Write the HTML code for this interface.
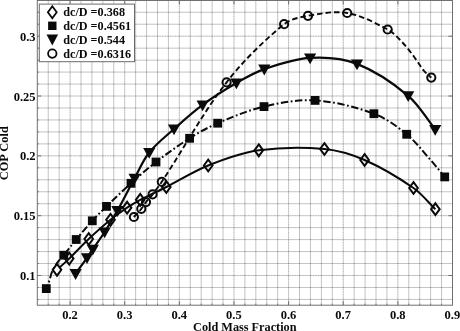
<!DOCTYPE html>
<html><head><meta charset="utf-8"><title>COP Cold vs Cold Mass Fraction</title>
<style>html,body{margin:0;padding:0;background:#fff;overflow:hidden}body{width:460px;height:331px;position:relative}</style></head>
<body>
<svg width="460" height="331" viewBox="0 0 460 331" style="position:absolute;left:0;top:0">
<g><line x1="48.23" y1="0.5" x2="48.23" y2="305.2" stroke="rgba(0,0,0,0.27)" stroke-width="0.9"/><line x1="59.15" y1="0.5" x2="59.15" y2="305.2" stroke="rgba(0,0,0,0.27)" stroke-width="0.9"/><line x1="70.08" y1="0.5" x2="70.08" y2="305.2" stroke="rgba(0,0,0,0.2)" stroke-width="0.9"/><line x1="70.08" y1="0.5" x2="70.08" y2="305.2" stroke="rgba(0,0,0,0.2)" stroke-width="0.9" stroke-dasharray="1 1.6"/><line x1="81.00" y1="0.5" x2="81.00" y2="305.2" stroke="rgba(0,0,0,0.27)" stroke-width="0.9"/><line x1="91.93" y1="0.5" x2="91.93" y2="305.2" stroke="rgba(0,0,0,0.27)" stroke-width="0.9"/><line x1="102.86" y1="0.5" x2="102.86" y2="305.2" stroke="rgba(0,0,0,0.27)" stroke-width="0.9"/><line x1="113.78" y1="0.5" x2="113.78" y2="305.2" stroke="rgba(0,0,0,0.27)" stroke-width="0.9"/><line x1="124.71" y1="0.5" x2="124.71" y2="305.2" stroke="rgba(0,0,0,0.2)" stroke-width="0.9"/><line x1="124.71" y1="0.5" x2="124.71" y2="305.2" stroke="rgba(0,0,0,0.2)" stroke-width="0.9" stroke-dasharray="1 1.6"/><line x1="135.63" y1="0.5" x2="135.63" y2="305.2" stroke="rgba(0,0,0,0.27)" stroke-width="0.9"/><line x1="146.56" y1="0.5" x2="146.56" y2="305.2" stroke="rgba(0,0,0,0.27)" stroke-width="0.9"/><line x1="157.49" y1="0.5" x2="157.49" y2="305.2" stroke="rgba(0,0,0,0.27)" stroke-width="0.9"/><line x1="168.41" y1="0.5" x2="168.41" y2="305.2" stroke="rgba(0,0,0,0.27)" stroke-width="0.9"/><line x1="179.34" y1="0.5" x2="179.34" y2="305.2" stroke="rgba(0,0,0,0.2)" stroke-width="0.9"/><line x1="179.34" y1="0.5" x2="179.34" y2="305.2" stroke="rgba(0,0,0,0.2)" stroke-width="0.9" stroke-dasharray="1 1.6"/><line x1="190.26" y1="0.5" x2="190.26" y2="305.2" stroke="rgba(0,0,0,0.27)" stroke-width="0.9"/><line x1="201.19" y1="0.5" x2="201.19" y2="305.2" stroke="rgba(0,0,0,0.27)" stroke-width="0.9"/><line x1="212.12" y1="0.5" x2="212.12" y2="305.2" stroke="rgba(0,0,0,0.27)" stroke-width="0.9"/><line x1="223.04" y1="0.5" x2="223.04" y2="305.2" stroke="rgba(0,0,0,0.27)" stroke-width="0.9"/><line x1="233.97" y1="0.5" x2="233.97" y2="305.2" stroke="rgba(0,0,0,0.2)" stroke-width="0.9"/><line x1="233.97" y1="0.5" x2="233.97" y2="305.2" stroke="rgba(0,0,0,0.2)" stroke-width="0.9" stroke-dasharray="1 1.6"/><line x1="244.89" y1="0.5" x2="244.89" y2="305.2" stroke="rgba(0,0,0,0.27)" stroke-width="0.9"/><line x1="255.82" y1="0.5" x2="255.82" y2="305.2" stroke="rgba(0,0,0,0.27)" stroke-width="0.9"/><line x1="266.75" y1="0.5" x2="266.75" y2="305.2" stroke="rgba(0,0,0,0.27)" stroke-width="0.9"/><line x1="277.67" y1="0.5" x2="277.67" y2="305.2" stroke="rgba(0,0,0,0.27)" stroke-width="0.9"/><line x1="288.60" y1="0.5" x2="288.60" y2="305.2" stroke="rgba(0,0,0,0.2)" stroke-width="0.9"/><line x1="288.60" y1="0.5" x2="288.60" y2="305.2" stroke="rgba(0,0,0,0.2)" stroke-width="0.9" stroke-dasharray="1 1.6"/><line x1="299.52" y1="0.5" x2="299.52" y2="305.2" stroke="rgba(0,0,0,0.27)" stroke-width="0.9"/><line x1="310.45" y1="0.5" x2="310.45" y2="305.2" stroke="rgba(0,0,0,0.27)" stroke-width="0.9"/><line x1="321.38" y1="0.5" x2="321.38" y2="305.2" stroke="rgba(0,0,0,0.27)" stroke-width="0.9"/><line x1="332.30" y1="0.5" x2="332.30" y2="305.2" stroke="rgba(0,0,0,0.27)" stroke-width="0.9"/><line x1="343.23" y1="0.5" x2="343.23" y2="305.2" stroke="rgba(0,0,0,0.2)" stroke-width="0.9"/><line x1="343.23" y1="0.5" x2="343.23" y2="305.2" stroke="rgba(0,0,0,0.2)" stroke-width="0.9" stroke-dasharray="1 1.6"/><line x1="354.15" y1="0.5" x2="354.15" y2="305.2" stroke="rgba(0,0,0,0.27)" stroke-width="0.9"/><line x1="365.08" y1="0.5" x2="365.08" y2="305.2" stroke="rgba(0,0,0,0.27)" stroke-width="0.9"/><line x1="376.01" y1="0.5" x2="376.01" y2="305.2" stroke="rgba(0,0,0,0.27)" stroke-width="0.9"/><line x1="386.93" y1="0.5" x2="386.93" y2="305.2" stroke="rgba(0,0,0,0.27)" stroke-width="0.9"/><line x1="397.86" y1="0.5" x2="397.86" y2="305.2" stroke="rgba(0,0,0,0.2)" stroke-width="0.9"/><line x1="397.86" y1="0.5" x2="397.86" y2="305.2" stroke="rgba(0,0,0,0.2)" stroke-width="0.9" stroke-dasharray="1 1.6"/><line x1="408.78" y1="0.5" x2="408.78" y2="305.2" stroke="rgba(0,0,0,0.27)" stroke-width="0.9"/><line x1="419.71" y1="0.5" x2="419.71" y2="305.2" stroke="rgba(0,0,0,0.27)" stroke-width="0.9"/><line x1="430.64" y1="0.5" x2="430.64" y2="305.2" stroke="rgba(0,0,0,0.27)" stroke-width="0.9"/><line x1="441.56" y1="0.5" x2="441.56" y2="305.2" stroke="rgba(0,0,0,0.27)" stroke-width="0.9"/><line x1="37.3" y1="299.43" x2="452.5" y2="299.43" stroke="rgba(0,0,0,0.27)" stroke-width="0.9"/><line x1="37.3" y1="287.47" x2="452.5" y2="287.47" stroke="rgba(0,0,0,0.27)" stroke-width="0.9"/><line x1="37.3" y1="275.50" x2="452.5" y2="275.50" stroke="rgba(0,0,0,0.2)" stroke-width="0.9"/><line x1="37.3" y1="275.50" x2="452.5" y2="275.50" stroke="rgba(0,0,0,0.2)" stroke-width="0.9" stroke-dasharray="1 1.6"/><line x1="37.3" y1="263.54" x2="452.5" y2="263.54" stroke="rgba(0,0,0,0.27)" stroke-width="0.9"/><line x1="37.3" y1="251.57" x2="452.5" y2="251.57" stroke="rgba(0,0,0,0.27)" stroke-width="0.9"/><line x1="37.3" y1="239.61" x2="452.5" y2="239.61" stroke="rgba(0,0,0,0.27)" stroke-width="0.9"/><line x1="37.3" y1="227.64" x2="452.5" y2="227.64" stroke="rgba(0,0,0,0.27)" stroke-width="0.9"/><line x1="37.3" y1="215.68" x2="452.5" y2="215.68" stroke="rgba(0,0,0,0.2)" stroke-width="0.9"/><line x1="37.3" y1="215.68" x2="452.5" y2="215.68" stroke="rgba(0,0,0,0.2)" stroke-width="0.9" stroke-dasharray="1 1.6"/><line x1="37.3" y1="203.71" x2="452.5" y2="203.71" stroke="rgba(0,0,0,0.27)" stroke-width="0.9"/><line x1="37.3" y1="191.75" x2="452.5" y2="191.75" stroke="rgba(0,0,0,0.27)" stroke-width="0.9"/><line x1="37.3" y1="179.78" x2="452.5" y2="179.78" stroke="rgba(0,0,0,0.27)" stroke-width="0.9"/><line x1="37.3" y1="167.81" x2="452.5" y2="167.81" stroke="rgba(0,0,0,0.27)" stroke-width="0.9"/><line x1="37.3" y1="155.85" x2="452.5" y2="155.85" stroke="rgba(0,0,0,0.2)" stroke-width="0.9"/><line x1="37.3" y1="155.85" x2="452.5" y2="155.85" stroke="rgba(0,0,0,0.2)" stroke-width="0.9" stroke-dasharray="1 1.6"/><line x1="37.3" y1="143.89" x2="452.5" y2="143.89" stroke="rgba(0,0,0,0.27)" stroke-width="0.9"/><line x1="37.3" y1="131.92" x2="452.5" y2="131.92" stroke="rgba(0,0,0,0.27)" stroke-width="0.9"/><line x1="37.3" y1="119.95" x2="452.5" y2="119.95" stroke="rgba(0,0,0,0.27)" stroke-width="0.9"/><line x1="37.3" y1="107.99" x2="452.5" y2="107.99" stroke="rgba(0,0,0,0.27)" stroke-width="0.9"/><line x1="37.3" y1="96.03" x2="452.5" y2="96.03" stroke="rgba(0,0,0,0.2)" stroke-width="0.9"/><line x1="37.3" y1="96.03" x2="452.5" y2="96.03" stroke="rgba(0,0,0,0.2)" stroke-width="0.9" stroke-dasharray="1 1.6"/><line x1="37.3" y1="84.06" x2="452.5" y2="84.06" stroke="rgba(0,0,0,0.27)" stroke-width="0.9"/><line x1="37.3" y1="72.09" x2="452.5" y2="72.09" stroke="rgba(0,0,0,0.27)" stroke-width="0.9"/><line x1="37.3" y1="60.13" x2="452.5" y2="60.13" stroke="rgba(0,0,0,0.27)" stroke-width="0.9"/><line x1="37.3" y1="48.17" x2="452.5" y2="48.17" stroke="rgba(0,0,0,0.27)" stroke-width="0.9"/><line x1="37.3" y1="36.20" x2="452.5" y2="36.20" stroke="rgba(0,0,0,0.2)" stroke-width="0.9"/><line x1="37.3" y1="36.20" x2="452.5" y2="36.20" stroke="rgba(0,0,0,0.2)" stroke-width="0.9" stroke-dasharray="1 1.6"/><line x1="37.3" y1="24.24" x2="452.5" y2="24.24" stroke="rgba(0,0,0,0.27)" stroke-width="0.9"/><line x1="37.3" y1="12.27" x2="452.5" y2="12.27" stroke="rgba(0,0,0,0.27)" stroke-width="0.9"/></g>
<g><line x1="48.23" y1="305.2" x2="48.23" y2="303.59999999999997" stroke="#707070" stroke-width="1"/><line x1="59.15" y1="305.2" x2="59.15" y2="303.59999999999997" stroke="#707070" stroke-width="1"/><line x1="70.08" y1="305.2" x2="70.08" y2="301.2" stroke="#707070" stroke-width="1"/><line x1="70.08" y1="0.5" x2="70.08" y2="4.5" stroke="#707070" stroke-width="1"/><line x1="81.00" y1="305.2" x2="81.00" y2="303.59999999999997" stroke="#707070" stroke-width="1"/><line x1="91.93" y1="305.2" x2="91.93" y2="303.59999999999997" stroke="#707070" stroke-width="1"/><line x1="102.86" y1="305.2" x2="102.86" y2="303.59999999999997" stroke="#707070" stroke-width="1"/><line x1="113.78" y1="305.2" x2="113.78" y2="303.59999999999997" stroke="#707070" stroke-width="1"/><line x1="124.71" y1="305.2" x2="124.71" y2="301.2" stroke="#707070" stroke-width="1"/><line x1="124.71" y1="0.5" x2="124.71" y2="4.5" stroke="#707070" stroke-width="1"/><line x1="135.63" y1="305.2" x2="135.63" y2="303.59999999999997" stroke="#707070" stroke-width="1"/><line x1="146.56" y1="305.2" x2="146.56" y2="303.59999999999997" stroke="#707070" stroke-width="1"/><line x1="157.49" y1="305.2" x2="157.49" y2="303.59999999999997" stroke="#707070" stroke-width="1"/><line x1="168.41" y1="305.2" x2="168.41" y2="303.59999999999997" stroke="#707070" stroke-width="1"/><line x1="179.34" y1="305.2" x2="179.34" y2="301.2" stroke="#707070" stroke-width="1"/><line x1="179.34" y1="0.5" x2="179.34" y2="4.5" stroke="#707070" stroke-width="1"/><line x1="190.26" y1="305.2" x2="190.26" y2="303.59999999999997" stroke="#707070" stroke-width="1"/><line x1="201.19" y1="305.2" x2="201.19" y2="303.59999999999997" stroke="#707070" stroke-width="1"/><line x1="212.12" y1="305.2" x2="212.12" y2="303.59999999999997" stroke="#707070" stroke-width="1"/><line x1="223.04" y1="305.2" x2="223.04" y2="303.59999999999997" stroke="#707070" stroke-width="1"/><line x1="233.97" y1="305.2" x2="233.97" y2="301.2" stroke="#707070" stroke-width="1"/><line x1="233.97" y1="0.5" x2="233.97" y2="4.5" stroke="#707070" stroke-width="1"/><line x1="244.89" y1="305.2" x2="244.89" y2="303.59999999999997" stroke="#707070" stroke-width="1"/><line x1="255.82" y1="305.2" x2="255.82" y2="303.59999999999997" stroke="#707070" stroke-width="1"/><line x1="266.75" y1="305.2" x2="266.75" y2="303.59999999999997" stroke="#707070" stroke-width="1"/><line x1="277.67" y1="305.2" x2="277.67" y2="303.59999999999997" stroke="#707070" stroke-width="1"/><line x1="288.60" y1="305.2" x2="288.60" y2="301.2" stroke="#707070" stroke-width="1"/><line x1="288.60" y1="0.5" x2="288.60" y2="4.5" stroke="#707070" stroke-width="1"/><line x1="299.52" y1="305.2" x2="299.52" y2="303.59999999999997" stroke="#707070" stroke-width="1"/><line x1="310.45" y1="305.2" x2="310.45" y2="303.59999999999997" stroke="#707070" stroke-width="1"/><line x1="321.38" y1="305.2" x2="321.38" y2="303.59999999999997" stroke="#707070" stroke-width="1"/><line x1="332.30" y1="305.2" x2="332.30" y2="303.59999999999997" stroke="#707070" stroke-width="1"/><line x1="343.23" y1="305.2" x2="343.23" y2="301.2" stroke="#707070" stroke-width="1"/><line x1="343.23" y1="0.5" x2="343.23" y2="4.5" stroke="#707070" stroke-width="1"/><line x1="354.15" y1="305.2" x2="354.15" y2="303.59999999999997" stroke="#707070" stroke-width="1"/><line x1="365.08" y1="305.2" x2="365.08" y2="303.59999999999997" stroke="#707070" stroke-width="1"/><line x1="376.01" y1="305.2" x2="376.01" y2="303.59999999999997" stroke="#707070" stroke-width="1"/><line x1="386.93" y1="305.2" x2="386.93" y2="303.59999999999997" stroke="#707070" stroke-width="1"/><line x1="397.86" y1="305.2" x2="397.86" y2="301.2" stroke="#707070" stroke-width="1"/><line x1="397.86" y1="0.5" x2="397.86" y2="4.5" stroke="#707070" stroke-width="1"/><line x1="408.78" y1="305.2" x2="408.78" y2="303.59999999999997" stroke="#707070" stroke-width="1"/><line x1="419.71" y1="305.2" x2="419.71" y2="303.59999999999997" stroke="#707070" stroke-width="1"/><line x1="430.64" y1="305.2" x2="430.64" y2="303.59999999999997" stroke="#707070" stroke-width="1"/><line x1="441.56" y1="305.2" x2="441.56" y2="303.59999999999997" stroke="#707070" stroke-width="1"/><line x1="37.3" y1="299.43" x2="38.9" y2="299.43" stroke="#707070" stroke-width="1"/><line x1="37.3" y1="287.47" x2="38.9" y2="287.47" stroke="#707070" stroke-width="1"/><line x1="37.3" y1="275.50" x2="41.3" y2="275.50" stroke="#707070" stroke-width="1"/><line x1="452.5" y1="275.50" x2="448.5" y2="275.50" stroke="#707070" stroke-width="1"/><line x1="37.3" y1="263.54" x2="38.9" y2="263.54" stroke="#707070" stroke-width="1"/><line x1="37.3" y1="251.57" x2="38.9" y2="251.57" stroke="#707070" stroke-width="1"/><line x1="37.3" y1="239.61" x2="38.9" y2="239.61" stroke="#707070" stroke-width="1"/><line x1="37.3" y1="227.64" x2="38.9" y2="227.64" stroke="#707070" stroke-width="1"/><line x1="37.3" y1="215.68" x2="41.3" y2="215.68" stroke="#707070" stroke-width="1"/><line x1="452.5" y1="215.68" x2="448.5" y2="215.68" stroke="#707070" stroke-width="1"/><line x1="37.3" y1="203.71" x2="38.9" y2="203.71" stroke="#707070" stroke-width="1"/><line x1="37.3" y1="191.75" x2="38.9" y2="191.75" stroke="#707070" stroke-width="1"/><line x1="37.3" y1="179.78" x2="38.9" y2="179.78" stroke="#707070" stroke-width="1"/><line x1="37.3" y1="167.81" x2="38.9" y2="167.81" stroke="#707070" stroke-width="1"/><line x1="37.3" y1="155.85" x2="41.3" y2="155.85" stroke="#707070" stroke-width="1"/><line x1="452.5" y1="155.85" x2="448.5" y2="155.85" stroke="#707070" stroke-width="1"/><line x1="37.3" y1="143.89" x2="38.9" y2="143.89" stroke="#707070" stroke-width="1"/><line x1="37.3" y1="131.92" x2="38.9" y2="131.92" stroke="#707070" stroke-width="1"/><line x1="37.3" y1="119.95" x2="38.9" y2="119.95" stroke="#707070" stroke-width="1"/><line x1="37.3" y1="107.99" x2="38.9" y2="107.99" stroke="#707070" stroke-width="1"/><line x1="37.3" y1="96.03" x2="41.3" y2="96.03" stroke="#707070" stroke-width="1"/><line x1="452.5" y1="96.03" x2="448.5" y2="96.03" stroke="#707070" stroke-width="1"/><line x1="37.3" y1="84.06" x2="38.9" y2="84.06" stroke="#707070" stroke-width="1"/><line x1="37.3" y1="72.09" x2="38.9" y2="72.09" stroke="#707070" stroke-width="1"/><line x1="37.3" y1="60.13" x2="38.9" y2="60.13" stroke="#707070" stroke-width="1"/><line x1="37.3" y1="48.17" x2="38.9" y2="48.17" stroke="#707070" stroke-width="1"/><line x1="37.3" y1="36.20" x2="41.3" y2="36.20" stroke="#707070" stroke-width="1"/><line x1="452.5" y1="36.20" x2="448.5" y2="36.20" stroke="#707070" stroke-width="1"/><line x1="37.3" y1="24.24" x2="38.9" y2="24.24" stroke="#707070" stroke-width="1"/><line x1="37.3" y1="12.27" x2="38.9" y2="12.27" stroke="#707070" stroke-width="1"/></g>
<rect x="37.3" y="0.5" width="415.2" height="304.7" fill="none" stroke="#707070" stroke-width="1"/>
<path d="M57.0 269.8C61.1 266.1 65.2 262.4 69.2 258.6C75.8 252.2 82.0 245.3 88.7 239.0C95.8 232.4 103.0 225.9 110.5 219.8C115.8 215.5 121.4 211.5 127.1 207.7C131.3 204.9 135.7 202.2 140.2 199.8C148.8 195.3 157.6 191.4 166.3 187.0C180.3 179.9 193.7 171.3 208.2 165.5C224.5 159.0 241.5 152.8 258.8 150.3C280.3 147.3 302.8 147.0 324.4 149.0C338.1 150.3 352.0 154.5 364.6 160.0C381.7 167.5 398.2 177.4 413.5 188.0C421.8 193.8 428.1 202.1 435.4 209.2" fill="none" stroke="#0a0a0a" stroke-width="2"/>
<path d="M46.3 288.6C47.2 286.2 48.2 283.8 49.1 281.3C50.3 277.9 50.9 274.3 52.4 271.0C53.9 267.7 56.0 264.6 58.1 261.6C59.8 259.3 62.0 257.4 63.8 255.2C68.0 250.0 71.9 244.6 76.2 239.5C81.4 233.2 86.7 226.9 92.3 220.8C96.8 215.8 101.7 211.1 106.5 206.4C114.6 198.6 122.6 190.8 131.0 183.3C139.1 176.0 147.3 168.7 156.0 162.0C166.9 153.7 178.0 145.6 189.6 138.3C198.6 132.6 207.9 127.4 217.7 123.2C232.7 116.8 248.1 110.3 264.0 106.6C280.6 102.7 298.2 99.3 315.1 100.4C334.9 101.7 355.3 106.8 373.9 113.7C385.8 118.1 396.8 126.2 406.7 134.3C415.4 141.4 422.4 150.7 429.9 159.2C435.0 164.9 439.8 171.0 444.7 176.9" fill="none" stroke="#0a0a0a" stroke-width="2" stroke-dasharray="7.4 2.5 1.8 2.5" stroke-dashoffset="3.2"/>
<path d="M75.6 273.6C79.4 268.3 83.3 263.1 87.0 257.8C89.0 255.0 90.9 252.1 92.8 249.2C96.7 243.5 100.9 237.9 104.6 232.0C109.1 225.0 113.4 217.9 117.4 210.6C123.4 199.9 128.7 188.9 134.6 178.2C139.3 169.6 143.1 160.1 149.2 152.5C156.2 143.7 165.5 136.6 174.0 129.0C183.3 120.7 192.6 112.3 202.6 104.9C213.4 96.9 224.8 89.7 236.4 83.0C245.4 77.8 254.5 72.4 264.3 69.1C279.1 64.1 294.7 58.8 310.1 57.9C325.6 57.0 342.6 58.3 357.0 63.9C375.3 71.0 393.0 83.1 408.2 95.8C419.1 104.9 426.2 118.2 435.2 129.4" fill="none" stroke="#0a0a0a" stroke-width="2.2"/>
<path d="M133.9 217.0C136.4 214.3 139.0 211.7 141.3 208.8C143.0 206.7 144.3 204.2 146.0 202.1C148.1 199.4 150.5 197.0 152.6 194.3C155.8 190.2 158.9 186.1 161.8 181.8C183.6 148.8 202.5 113.4 226.6 82.3C243.2 60.9 263.4 41.1 284.1 24.2C290.5 19.0 299.8 17.3 308.0 15.8C320.8 13.5 334.6 10.8 347.2 13.0C361.2 15.4 375.0 22.8 387.7 29.5C393.2 32.4 397.6 37.5 402.0 42.0C406.3 46.4 410.0 51.4 413.7 56.3C417.3 61.1 420.3 66.4 424.1 71.0C426.2 73.5 428.9 75.4 431.3 77.6" fill="none" stroke="#0a0a0a" stroke-width="1.9" stroke-dasharray="5.5 3"/>
<path d="M57.0 263.9L61.3 269.8L57.0 275.7L52.7 269.8Z" fill="#fff" stroke="#0a0a0a" stroke-width="2.0" stroke-linejoin="miter"/><path d="M69.2 252.7L73.5 258.6L69.2 264.5L64.9 258.6Z" fill="none" stroke="#0a0a0a" stroke-width="2.0" stroke-linejoin="miter"/><path d="M88.7 233.1L93.0 239.0L88.7 244.9L84.4 239.0Z" fill="none" stroke="#0a0a0a" stroke-width="2.0" stroke-linejoin="miter"/><path d="M110.5 213.9L114.8 219.8L110.5 225.7L106.2 219.8Z" fill="none" stroke="#0a0a0a" stroke-width="2.0" stroke-linejoin="miter"/><path d="M127.1 201.8L131.4 207.7L127.1 213.6L122.8 207.7Z" fill="none" stroke="#0a0a0a" stroke-width="2.0" stroke-linejoin="miter"/><path d="M140.2 193.9L144.5 199.8L140.2 205.7L135.9 199.8Z" fill="none" stroke="#0a0a0a" stroke-width="2.0" stroke-linejoin="miter"/><path d="M166.3 181.1L170.6 187.0L166.3 192.9L162.0 187.0Z" fill="none" stroke="#0a0a0a" stroke-width="2.0" stroke-linejoin="miter"/><path d="M208.2 159.6L212.5 165.5L208.2 171.4L203.9 165.5Z" fill="none" stroke="#0a0a0a" stroke-width="2.0" stroke-linejoin="miter"/><path d="M258.8 144.4L263.1 150.3L258.8 156.2L254.5 150.3Z" fill="none" stroke="#0a0a0a" stroke-width="2.0" stroke-linejoin="miter"/><path d="M324.4 143.1L328.7 149.0L324.4 154.9L320.1 149.0Z" fill="none" stroke="#0a0a0a" stroke-width="2.0" stroke-linejoin="miter"/><path d="M364.6 154.1L368.9 160.0L364.6 165.9L360.3 160.0Z" fill="none" stroke="#0a0a0a" stroke-width="2.0" stroke-linejoin="miter"/><path d="M413.5 182.1L417.8 188.0L413.5 193.9L409.2 188.0Z" fill="none" stroke="#0a0a0a" stroke-width="2.0" stroke-linejoin="miter"/><path d="M435.4 203.3L439.7 209.2L435.4 215.1L431.1 209.2Z" fill="none" stroke="#0a0a0a" stroke-width="2.0" stroke-linejoin="miter"/>
<rect x="41.9" y="284.2" width="8.8" height="8.8" fill="#0a0a0a"/><rect x="59.4" y="250.8" width="8.8" height="8.8" fill="#0a0a0a"/><rect x="71.8" y="235.1" width="8.8" height="8.8" fill="#0a0a0a"/><rect x="87.9" y="216.4" width="8.8" height="8.8" fill="#0a0a0a"/><rect x="102.1" y="202.0" width="8.8" height="8.8" fill="#0a0a0a"/><rect x="126.6" y="178.9" width="8.8" height="8.8" fill="#0a0a0a"/><rect x="151.6" y="157.6" width="8.8" height="8.8" fill="#0a0a0a"/><rect x="185.2" y="133.9" width="8.8" height="8.8" fill="#0a0a0a"/><rect x="213.3" y="118.8" width="8.8" height="8.8" fill="#0a0a0a"/><rect x="259.6" y="102.2" width="8.8" height="8.8" fill="#0a0a0a"/><rect x="310.7" y="96.0" width="8.8" height="8.8" fill="#0a0a0a"/><rect x="369.5" y="109.3" width="8.8" height="8.8" fill="#0a0a0a"/><rect x="402.3" y="129.9" width="8.8" height="8.8" fill="#0a0a0a"/><rect x="440.3" y="172.5" width="8.8" height="8.8" fill="#0a0a0a"/>
<path d="M69.5 269.1L81.7 269.1L75.6 279.9Z" fill="#0a0a0a"/><path d="M80.9 253.3L93.1 253.3L87.0 264.1Z" fill="#0a0a0a"/><path d="M86.7 244.7L98.9 244.7L92.8 255.5Z" fill="#0a0a0a"/><path d="M98.5 227.5L110.7 227.5L104.6 238.3Z" fill="#0a0a0a"/><path d="M111.3 206.1L123.5 206.1L117.4 216.9Z" fill="#0a0a0a"/><path d="M128.5 173.7L140.7 173.7L134.6 184.5Z" fill="#0a0a0a"/><path d="M143.1 148.0L155.3 148.0L149.2 158.8Z" fill="#0a0a0a"/><path d="M167.9 124.5L180.1 124.5L174.0 135.3Z" fill="#0a0a0a"/><path d="M196.5 100.4L208.7 100.4L202.6 111.2Z" fill="#0a0a0a"/><path d="M230.3 78.5L242.5 78.5L236.4 89.3Z" fill="#0a0a0a"/><path d="M258.2 64.6L270.4 64.6L264.3 75.4Z" fill="#0a0a0a"/><path d="M304.0 53.4L316.2 53.4L310.1 64.2Z" fill="#0a0a0a"/><path d="M350.9 59.4L363.1 59.4L357.0 70.2Z" fill="#0a0a0a"/><path d="M402.1 91.3L414.3 91.3L408.2 102.1Z" fill="#0a0a0a"/><path d="M429.1 124.9L441.3 124.9L435.2 135.7Z" fill="#0a0a0a"/>
<circle cx="133.9" cy="217.0" r="4.1" fill="none" stroke="#0a0a0a" stroke-width="2.0"/><circle cx="141.3" cy="208.8" r="4.1" fill="none" stroke="#0a0a0a" stroke-width="2.0"/><circle cx="146.0" cy="202.1" r="4.1" fill="none" stroke="#0a0a0a" stroke-width="2.0"/><circle cx="152.6" cy="194.3" r="4.1" fill="none" stroke="#0a0a0a" stroke-width="2.0"/><circle cx="161.8" cy="181.8" r="4.1" fill="none" stroke="#0a0a0a" stroke-width="2.0"/><circle cx="226.6" cy="82.3" r="4.1" fill="none" stroke="#0a0a0a" stroke-width="2.0"/><circle cx="284.1" cy="24.2" r="4.1" fill="none" stroke="#0a0a0a" stroke-width="2.0"/><circle cx="308.0" cy="15.8" r="4.1" fill="none" stroke="#0a0a0a" stroke-width="2.0"/><circle cx="347.2" cy="13.0" r="4.1" fill="none" stroke="#0a0a0a" stroke-width="2.0"/><circle cx="387.7" cy="29.5" r="4.1" fill="none" stroke="#0a0a0a" stroke-width="2.0"/><circle cx="431.3" cy="77.6" r="4.1" fill="none" stroke="#0a0a0a" stroke-width="2.0"/>
<rect x="39.3" y="4.1" width="95.2" height="57.6" fill="#fff" stroke="#6a6a6a" stroke-width="1"/>
<path d="M52.3 6.2L56.7 12.2L52.3 18.2L47.9 12.2Z" fill="none" stroke="#0a0a0a" stroke-width="1.8" stroke-linejoin="miter"/>
<rect x="48.1" y="21.6" width="8.4" height="8.4" fill="#0a0a0a"/>
<path d="M46.5 34.6L58.1 34.6L52.3 45.4Z" fill="#0a0a0a"/>
<circle cx="52.3" cy="53.6" r="4.2" fill="none" stroke="#0a0a0a" stroke-width="1.8"/>
<text x="63.2" y="16.2" font-family="Liberation Serif, serif" font-weight="bold" font-size="12.2px" fill="#0a0a0a">dc/D =0.368</text>
<text x="63.2" y="30.1" font-family="Liberation Serif, serif" font-weight="bold" font-size="12.2px" fill="#0a0a0a">dc/D =0.4561</text>
<text x="63.2" y="44.0" font-family="Liberation Serif, serif" font-weight="bold" font-size="12.2px" fill="#0a0a0a">dc/D =0.544</text>
<text x="63.2" y="57.9" font-family="Liberation Serif, serif" font-weight="bold" font-size="12.2px" fill="#0a0a0a">dc/D =0.6316</text>
<text x="70.0" y="318.5" text-anchor="middle" font-family="Liberation Serif, serif" font-weight="bold" font-size="12.5px" fill="#0a0a0a">0.2</text>
<text x="124.6" y="318.5" text-anchor="middle" font-family="Liberation Serif, serif" font-weight="bold" font-size="12.5px" fill="#0a0a0a">0.3</text>
<text x="179.2" y="318.5" text-anchor="middle" font-family="Liberation Serif, serif" font-weight="bold" font-size="12.5px" fill="#0a0a0a">0.4</text>
<text x="233.9" y="318.5" text-anchor="middle" font-family="Liberation Serif, serif" font-weight="bold" font-size="12.5px" fill="#0a0a0a">0.5</text>
<text x="288.5" y="318.5" text-anchor="middle" font-family="Liberation Serif, serif" font-weight="bold" font-size="12.5px" fill="#0a0a0a">0.6</text>
<text x="343.1" y="318.5" text-anchor="middle" font-family="Liberation Serif, serif" font-weight="bold" font-size="12.5px" fill="#0a0a0a">0.7</text>
<text x="397.8" y="318.5" text-anchor="middle" font-family="Liberation Serif, serif" font-weight="bold" font-size="12.5px" fill="#0a0a0a">0.8</text>
<text x="452.4" y="318.5" text-anchor="middle" font-family="Liberation Serif, serif" font-weight="bold" font-size="12.5px" fill="#0a0a0a">0.9</text>
<text x="35.6" y="280.0" text-anchor="end" font-family="Liberation Serif, serif" font-weight="bold" font-size="12.5px" fill="#0a0a0a">0.1</text>
<text x="35.6" y="220.2" text-anchor="end" font-family="Liberation Serif, serif" font-weight="bold" font-size="12.5px" fill="#0a0a0a">0.15</text>
<text x="35.6" y="160.3" text-anchor="end" font-family="Liberation Serif, serif" font-weight="bold" font-size="12.5px" fill="#0a0a0a">0.2</text>
<text x="35.6" y="100.5" text-anchor="end" font-family="Liberation Serif, serif" font-weight="bold" font-size="12.5px" fill="#0a0a0a">0.25</text>
<text x="35.6" y="40.7" text-anchor="end" font-family="Liberation Serif, serif" font-weight="bold" font-size="12.5px" fill="#0a0a0a">0.3</text>
<text x="244.8" y="330.8" text-anchor="middle" font-family="Liberation Serif, serif" font-weight="bold" font-size="12.25px" fill="#0a0a0a">Cold Mass Fraction</text>
<text transform="translate(8.1 153.2) rotate(-90)" text-anchor="middle" font-family="Liberation Serif, serif" font-weight="bold" font-size="12.4px" fill="#0a0a0a">COP Cold</text>
</svg>
</body></html>
